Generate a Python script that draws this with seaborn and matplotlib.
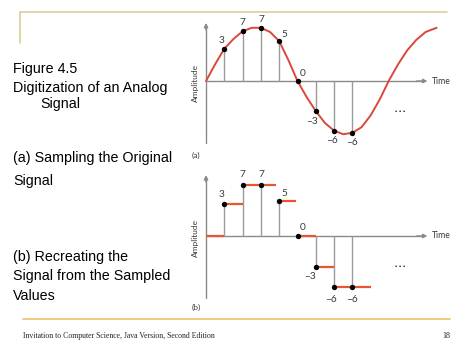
import matplotlib
matplotlib.use("Agg")
import matplotlib.pyplot as plt
from matplotlib.lines import Line2D
import seaborn as sns

# ---------------- data ----------------
# analog signal (time in sample periods, amplitude units)
curve_t = [0, 0.5, 1, 1.5, 2, 2.5, 3, 3.5, 4, 4.5, 5, 5.5, 6, 6.5, 7, 7.5, 8,
           8.5, 9, 9.5, 10, 10.5, 11, 11.5, 12, 12.6]
curve_amp = [0, 2.4, 4.6, 6.0, 7.1, 7.6, 7.6, 7.0, 5.7, 3.0, 0, -2.3, -4.3,
             -6.0, -7.1, -7.6, -7.4, -6.6, -4.9, -2.6, 0.1, 2.4, 4.4, 5.9, 7.0, 7.6]

sample_t = [1, 2, 3, 4, 5, 6, 7, 8]
sample_values = [3, 7, 7, 5, 0, -3, -6, -6]            # quantized labels
sample_height_a = [4.6, 7.1, 7.6, 5.7, 0, -4.3, -7.1, -7.4]   # dots on curve (a)
sample_height_b = [4.6, 7.3, 7.3, 5.0, 0, -4.4, -7.3, -7.3]   # dots in (b)

# recreated (held) signal in panel (b)
step_start = [0, 1, 2, 3, 4, 5, 6, 7, 8]
step_end = [1, 2, 3, 3.8, 4.9, 6, 7, 8, 9]
step_level = [0, 4.6, 7.3, 7.3, 5.0, 0, -4.4, -7.3, -7.3]

left_lines = ["Figure 4.5", "Digitization of an Analog", "Signal",
              "(a) Sampling the Original", "Signal",
              "(b) Recreating the", "Signal from the Sampled", "Values"]
footer_left = "Invitation to Computer Science, Java Version, Second Edition"
footer_right = "18"

# ---------------- style ----------------
sns.set_style("white")
plt.rcParams["font.family"] = ["Liberation Sans", "DejaVu Sans"]

W, H = 474, 355
X0, DX = 206, 18.3   # pixel of t=0, pixels per sample
PY = 7.0             # pixels per amplitude unit
RED = "#d9483b"
STEP = "#e8552f"
GREY = "#9a9a9a"
AXC = "#8a8a8a"
LBL = "#3a3a3a"
LABFONT = ["Lato", "DejaVu Sans"]

fig = plt.figure(figsize=(W / 100, H / 100), dpi=100)
fig.patch.set_facecolor("white")


def make_ax(top_px, bot_px, zero_px):
    left_px, right_px = 180, 474
    ax = fig.add_axes([left_px / W, 1 - bot_px / H, (right_px - left_px) / W,
                       (bot_px - top_px) / H])
    ax.set_xlim((left_px - X0) / DX, (right_px - X0) / DX)
    ax.set_ylim((zero_px - bot_px) / PY, (zero_px - top_px) / PY)
    ax.set_axis_off()
    return ax


def draw_axes(ax, ytop, ybot, xend):
    ax.plot([0, 0], [ybot, ytop - 0.3], color=AXC, lw=1.0, zorder=1)
    ax.annotate("", xy=(0, ytop), xytext=(0, ytop - 1.0),
                arrowprops=dict(arrowstyle="-|>", color=AXC, lw=1.0,
                                mutation_scale=6, shrinkA=0, shrinkB=0))
    ax.plot([0, xend - 0.2], [0, 0], color=AXC, lw=1.0, zorder=1)
    ax.annotate("", xy=(xend, 0), xytext=(xend - 0.6, 0),
                arrowprops=dict(arrowstyle="-|>", color=AXC, lw=1.0,
                                mutation_scale=6, shrinkA=0, shrinkB=0))
    ax.text(xend + 0.25, 0, "Time", fontsize=6.2, family=LABFONT, color=LBL,
            ha="left", va="center")
    ax.text(-0.55, -0.3, "Amplitude", fontsize=6.0, family=LABFONT, color=LBL,
            rotation=90, ha="center", va="center")


def fmt(v):
    return str(v) if v >= 0 else "\u2013" + str(-v)


# ---- panel (a) ----
axa = make_ax(15, 163, 81)
draw_axes(axa, 8.3, -8.9, 12.1)
axa.vlines(sample_t, 0, sample_height_a, color=GREY, lw=1.0, zorder=2)
sns.lineplot(x=curve_t, y=curve_amp, ax=axa, color=RED, lw=1.4, sort=False,
             zorder=3)
sns.scatterplot(x=sample_t, y=sample_height_a, ax=axa, color="black", s=15,
                linewidth=0, zorder=5)
offs_a = [(-3, 8), (0, 9), (0, 8), (5, 7), (5, 8), (-4, -10), (-2, -10), (0, -10)]
for t, h, v, o in zip(sample_t, sample_height_a, sample_values, offs_a):
    axa.annotate(fmt(v), (t, h), xytext=o, textcoords="offset pixels",
                 ha="center", va="center", fontsize=7.3, family=LABFONT, color=LBL)
axa.text(10.6, -4.3, "\u2022 \u2022 \u2022", fontsize=4.5, color="#222222",
         ha="center", va="center")

# ---- panel (b) ----
axb = make_ax(166, 316, 236)
draw_axes(axb, 8.7, -8.9, 12.1)
axb.vlines(sample_t, 0, sample_height_b, color=GREY, lw=1.0, zorder=2)
axb.hlines(step_level, step_start, step_end, color=STEP, lw=1.6, zorder=3)
sns.scatterplot(x=sample_t, y=sample_height_b, ax=axb, color="black", s=15,
                linewidth=0, zorder=5)
offs_b = [(-3, 9), (0, 10), (0, 10), (5, 8), (5, 8), (-6, -10), (-3, -12), (0, -12)]
for t, h, v, o in zip(sample_t, sample_height_b, sample_values, offs_b):
    axb.annotate(fmt(v), (t, h), xytext=o, textcoords="offset pixels",
                 ha="center", va="center", fontsize=7.3, family=LABFONT, color=LBL)
axb.text(10.6, -4.4, "\u2022 \u2022 \u2022", fontsize=4.5, color="#222222",
         ha="center", va="center")

for ax in (axa, axb):
    ax.set_xlim((180 - X0) / DX, (474 - X0) / DX)

fig.text(192 / W, 1 - 155 / H, "(a)", fontsize=6, family=LABFONT, color=LBL,
         va="center")
fig.text(192 / W, 1 - 307 / H, "(b)", fontsize=6, family=LABFONT, color=LBL,
         va="center")

# ---------------- left caption ----------------
left_pos = [(13, 69), (13, 88), (40, 104), (13, 158), (13, 181), (13, 257),
            (13, 276), (13, 296)]
for s, (x, y) in zip(left_lines, left_pos):
    fig.text(x / W, 1 - y / H, s, fontsize=10.3, color="black", ha="left",
             va="center", family=["Liberation Sans", "DejaVu Sans"])

# ---------------- slide decoration ----------------
fig.add_artist(Line2D([20 / W, 447 / W], [1 - 12 / H, 1 - 12 / H],
                      color="#d8d09a", lw=1.2))
fig.add_artist(Line2D([20 / W, 20 / W], [1 - 12 / H, 1 - 43 / H],
                      color="#d8d09a", lw=1.2))
fig.add_artist(Line2D([23 / W, 450 / W], [1 - 319 / H, 1 - 319 / H],
                      color="#e8c46a", lw=1.2))
fig.text(23 / W, 1 - 336 / H, footer_left, fontsize=5.6, color="#222222",
         family=["Liberation Serif", "DejaVu Serif"], va="center")
fig.text(450 / W, 1 - 336 / H, footer_right, fontsize=5.8, color="#222222",
         family=["Liberation Serif", "DejaVu Serif"], va="center", ha="right")

fig.savefig("out.png", dpi=100, facecolor="white")
